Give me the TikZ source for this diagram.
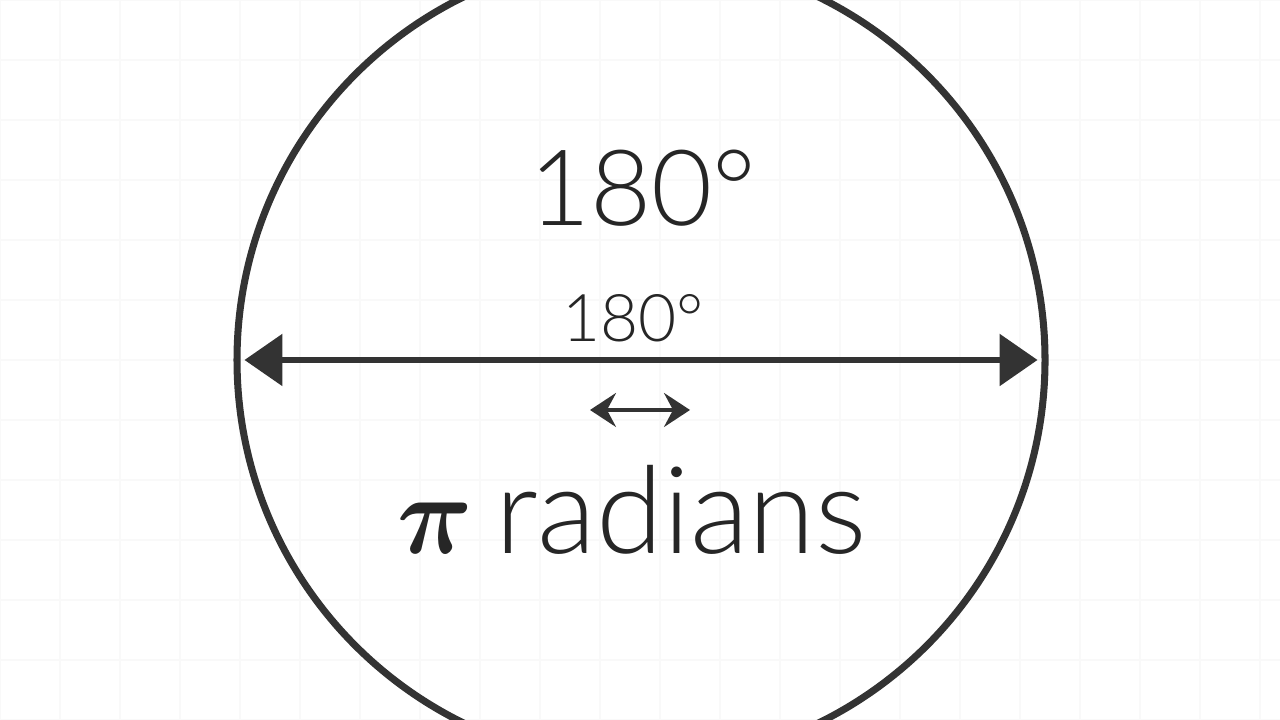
\documentclass[tikz,border=0pt]{standalone}
\usepackage{amsmath}
\usepackage{fontspec}
\setmainfont{Lato Light}
\usetikzlibrary{arrows.meta}
\tikzset{
  rim/.style={circle, draw=black!80, line width=2pt, minimum size=8.08cm, inner sep=0pt},
  span/.style={draw=black!80, line width=1.7pt, {Triangle[length=3.8mm, width=5.1mm]}-{Triangle[length=3.8mm, width=5.1mm]}},
  tiny span/.style={draw=black!80, line width=0.9pt, {Stealth[length=2.6mm, width=3.4mm, inset=0.9mm]}-{Stealth[length=2.6mm, width=3.4mm, inset=0.9mm]}},
}
\begin{document}
\begin{tikzpicture}
\useasboundingbox (0,0) rectangle (12.8,7.2);
\clip (0,0) rectangle (12.8,7.2);
\fill [white] (0,0) rectangle (12.8,7.2);
\draw [black!2.5, line width=0.4pt, step=0.6] (0,0) grid (12.8,7.2);
% the circle and its diameter
\node (disc) [rim] at (6.41,3.6) {};
\draw [span, shorten <=1.1mm, shorten >=1.1mm] (disc.west) -- (disc.east);
% labels
\node (top) at (6.43,5.32) [text=black!85, font=\fontsize{30}{36}\selectfont] {180°};
\node (mid) at (6.33,4.02) [text=black!85, font=\fontsize{18.7}{22}\selectfont] {180°};
\coordinate (la) at (5.90,3.10);
\coordinate (lb) at (6.90,3.10);
\draw [tiny span] (la) -- (lb);
\node (rad) at (6.32,2.10) [text=black!85, font=\fontsize{34.5}{40}\selectfont] {\scalebox{1.2}[1.3]{$\boldsymbol{\pi}$}\hspace{-0.08em} radians};
\end{tikzpicture}
\end{document}
